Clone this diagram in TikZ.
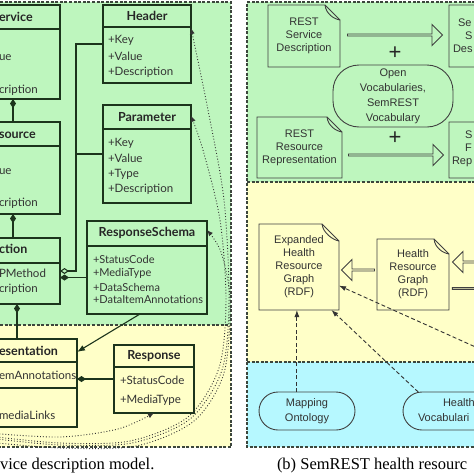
\documentclass[tikz,border=0pt]{standalone}
\usepackage{fontspec}
\setmainfont{Liberation Sans}
\newfontfamily\umlfont{Lato}
\newfontfamily\capfont{Liberation Serif}
\usepackage{tikz}
\usetikzlibrary{arrows.meta,positioning,shapes.arrows,calc}
\definecolor{panelgreen}{RGB}{190,246,190}
\definecolor{panelyellow}{RGB}{255,255,200}
\definecolor{panelcyan}{RGB}{182,248,255}
\definecolor{umlline}{RGB}{28,52,28}
\definecolor{borderdash}{RGB}{60,70,60}

\begin{document}
\begin{tikzpicture}[x=1pt,y=-1pt,>=Latex,
  every node/.style={inner sep=0pt,outer sep=0pt},
  region/.style={draw=borderdash,line width=1.2pt,dash pattern=on 3pt off 1.6pt},
  umlclass/.style={draw=umlline,line width=1.1pt,anchor=north west},
  umlsep/.style={draw=umlline,line width=1.1pt},
  umltitle/.style={font=\umlfont\bfseries\fontsize{12.5}{14}\selectfont,text=black!85},
  attr/.style={font=\umlfont\fontsize{11.5}{14}\selectfont,text=black!80,anchor=west},
  smallattr/.style={font=\umlfont\fontsize{11}{13}\selectfont,text=black!80,anchor=west},
  comp/.style={umlsep,-{Diamond[length=9pt,width=6pt]}},
  aggr/.style={umlsep,-{Diamond[open,length=9pt,width=6pt]}},
  assoc/.style={umlsep,-{Latex[length=8pt,width=6pt]}},
  dep/.style={draw=black!80,line width=0.9pt,dotted,-{Latex[length=6pt,width=5pt]}},
  docnode/.style={minimum width=72pt,minimum height=62pt,align=center,text=black!80,font=\fontsize{11}{13}\selectfont},
  docline/.style={draw=black!75,line width=0.9pt},
  stadium/.style={draw=black!75,line width=0.9pt,rounded corners=19pt,align=center,text=black!80,font=\fontsize{11}{15}\selectfont},
  blockarrow/.style={single arrow,draw=black!75,line width=0.9pt,minimum width=21pt,single arrow head extend=4.5pt,single arrow head indent=0pt},
  depdash/.style={draw=black!80,line width=0.9pt,dash pattern=on 4pt off 2.5pt,-{Latex[length=7pt,width=5pt]}},
  frag/.style={anchor=west,text=black!80,font=\fontsize{11}{13}\selectfont},
  caption/.style={font=\capfont\fontsize{16.5}{18}\selectfont,anchor=base west}]
\useasboundingbox (0,0) rectangle (474,474);
\clip (0,0) rectangle (474,474);

% (a) service description model
\fill[panelgreen] (0,2) rectangle (231,325);
\fill[panelyellow] (0,325) rectangle (231,447);
\draw[region] (0,2) -- (231,2) -- (231,447) -- (0,447);
\draw[region] (0,325) -- (231,325);

\node[umlclass,minimum width=94pt,minimum height=94pt] (service) at (-34,5) {};
\draw[umlsep] (service.north west) ++(0,24) -- ++(94,0);
\node[umltitle,anchor=west] (servicettl) at (-1,17) {ervice};
\node[attr] (serviceval) at (-1,58) {ue};
\node[attr] (servicedesc) at (-1,90) {cription};

\node[umlclass,minimum width=94pt,minimum height=92pt] (resource) at (-34,122) {};
\draw[umlsep] (resource.north west) ++(0,24) -- ++(94,0);
\node[umltitle,anchor=west] (resourcettl) at (-1,135) {source};
\node[attr] (resourceval) at (-1,172) {ue};
\node[attr] (resourcedesc) at (-1,203) {cription};

\node[umlclass,minimum width=86pt,minimum height=66pt] (action) at (-26,238) {};
\draw[umlsep] (action.north west) ++(0,25) -- ++(86,0);
\node[umltitle,anchor=west] (actionttl) at (-1,249) {ction};
\node[attr] (actionmethod) at (-1,273) {PMethod};
\node[attr] (actiondesc) at (-1,289) {cription};

\node[umlclass,minimum width=137pt,minimum height=88pt] (representation) at (-60,339) {};
\draw[umlsep] (representation.north west) ++(0,23) -- ++(137,0);
\draw[umlsep] (representation.north west) ++(0,49) -- ++(137,0);
\node[umltitle,anchor=west] (representationttl) at (-1,351) {esentation};
\node[attr] (representationann) at (-1,375) {emAnnotations};
\node[attr] (representationlinks) at (-1,415) {mediaLinks};

\node[umlclass,minimum width=88pt,minimum height=78pt] (header) at (103,5) {};
\draw[umlsep] (header.north west) ++(0,22) -- ++(88,0);
\node[umltitle] (headerttl) at (147,16) {Header};
\node[attr] (headerkey) at (108,40) {+Key};
\node[attr] (headerval) at (108,56) {+Value};
\node[attr] (headerdesc) at (108,72) {+Description};

\node[umlclass,minimum width=88pt,minimum height=98pt] (parameter) at (103,105) {};
\draw[umlsep] (parameter.north west) ++(0,24) -- ++(88,0);
\node[umltitle] (parameterttl) at (147,117) {Parameter};
\node[attr] (parameterkey) at (108,143) {+Key};
\node[attr] (parameterval) at (108,158.5) {+Value};
\node[attr] (parametertype) at (108,174) {+Type};
\node[attr] (parameterdesc) at (108,189.5) {+Description};

\node[umlclass,minimum width=120pt,minimum height=93pt] (rschema) at (87,221) {};
\draw[umlsep] (rschema.north west) ++(0,25) -- ++(120,0);
\node[umltitle] (rschemattl) at (147,233) {ResponseSchema};
\node[smallattr] (rschemacode) at (93,259) {+StatusCode};
\node[smallattr] (rschematype) at (93,273) {+MediaType};
\node[smallattr] (rschemadata) at (93,287) {+DataSchema};
\node[smallattr] (rschemaann) at (93,300) {+DataItemAnnotations};

\node[umlclass,minimum width=80pt,minimum height=68pt] (response) at (114,345) {};
\draw[umlsep] (response.north west) ++(0,22) -- ++(80,0);
\node[umltitle] (responsettl) at (154,356) {Response};
\node[attr] (responsecode) at (120,380) {+StatusCode};
\node[attr] (responsetype) at (120,400) {+MediaType};

\draw[comp] (resource.north) -- (service.south);
\draw[comp] (action.north -| resource.south) -- (resource.south);
\draw[comp] (action.south |- representation.north) -- (action.south);
\draw[aggr] (header.west) -- ++(-27,0) |- (action.east);
\draw[umlsep] (parameter.west) -- ++(-27,0);
\coordinate (rsjoin) at ([yshift=-10pt]rschema.west);
\draw[comp] (rsjoin) -- (rsjoin -| action.east);
\draw[assoc] ([xshift=-7pt]rschema.south) -- ([yshift=31pt]representation.east);
\draw[comp] (response.west) -- (response.west -| representation.east);

\coordinate (reprout) at (-12,438);
\draw[dep] plot[smooth] coordinates {([yshift=5pt]reprout) (60,437) (118,429) (response.south)};
\draw[dep] plot[smooth] coordinates {(reprout) (60,445) (132,443) (190,419) (222,370) (229,300) (224,200) (208,110) (header.20)};
\draw[dep] plot[smooth] coordinates {([yshift=2pt]reprout) (60,443) (130,441) (188,417) (219,368) (226,300) (220,220) (203,150) (parameter.41)};
\draw[dep] plot[smooth] coordinates {([yshift=-4pt]reprout) (60,448) (136,446) (194,421) (224,373) (230,300) (221,252) (rschema.32)};

% (b) SemREST health resource
\fill[panelgreen] (247,2) rectangle (480,182);
\fill[panelyellow] (247,182) rectangle (480,362);
\fill[panelcyan] (247,362) rectangle (480,447);
\draw[region] (480,2) -- (247,2) -- (247,447) -- (480,447);
\draw[region] (247,182) -- (480,182);
\draw[region] (247,362) -- (480,362);

\node[docnode] (srvdesc) at (304,36) {REST\\Service\\Description};
\node[docnode] (semsrv) at (485,36) {};
\node[frag] (semsrvtxta) at (458,23) {Se};
\node[frag] (semsrvtxtb) at (465,36) {S};
\node[frag] (semsrvtxtc) at (453,49) {Des};
\node[docnode,minimum width=85pt,minimum height=61pt] (resrep) at (299.5,147.5) {REST\\Resource\\Representation};
\node[docnode,minimum height=56pt] (semrep) at (485,150) {};
\node[frag] (semreptxta) at (465,135) {S};
\node[frag] (semreptxtb) at (465,148) {F};
\node[frag] (semreptxtc) at (452,162) {Rep};
\node[stadium,minimum width=120pt,minimum height=62pt,rounded corners=26pt] (vocab) at (393,96) {Open\\Vocabularies,\\SemREST\\Vocabulary};
\node[font=\fontsize{22}{22}\selectfont,text=black!85] (plusa) at (395,53) {+};
\node[font=\fontsize{22}{22}\selectfont,text=black!85] (plusb) at (395,138) {+};
\node[blockarrow,minimum height=95pt] (srvarrow) at (394.5,35) {};
\node[blockarrow,minimum height=95pt] (reparrow) at (395.5,155) {};

\node[docnode,minimum width=80pt,minimum height=86pt] (expgraph) at (299,267) {Expanded\\Health\\Resource\\Graph\\(RDF)};
\node[docnode,minimum height=71pt] (hgraph) at (413,274.5) {Health\\Resource\\Graph\\(RDF)};
\node[blockarrow,shape border rotate=180,minimum height=33pt] (exparrow) at (358.5,270) {};
\node[blockarrow,shape border rotate=180,minimum height=47pt] (inarrow) at (476.5,262) {};
\node[blockarrow,minimum height=50pt,minimum width=18pt] (outarrow) at (477,288.5) {};

\foreach \nm/\fs in {srvdesc/15,semsrv/15,resrep/15,semrep/15,expgraph/17,hgraph/15}{
  \draw[docline] (\nm.south west) |- ([xshift=-\fs]\nm.north east) -- ([yshift=-\fs]\nm.north east) |- (\nm.south west) -- cycle;
  \draw[docline] ([xshift=-\fs]\nm.north east) .. controls +(1,9) and +(-6,-1) .. ([yshift=-\fs]\nm.north east);
}

\node[stadium,minimum width=96pt,minimum height=38pt] (mapping) at (307,411) {Mapping\\Ontology};
\node[stadium,minimum width=120pt,minimum height=38pt] (hvocab) at (463,411) {};
\node[frag] (hvocabtxta) at (443,403) {Health};
\node[frag] (hvocabtxtb) at (418,418) {Vocabulari};

\draw[depdash] (mapping.118) -- (mapping.118 |- expgraph.south);
\draw[depdash] (hvocab.157) -- (expgraph.-53);
\coordinate (vocabout) at (480,349);
\draw[depdash] (vocabout) -- (expgraph.-25);

\node[caption] (capmodel) at (0,469.5) {vice description model.};
\node[caption] (capsemrest) at (277,469.5) {(b) SemREST health resourc};
\end{tikzpicture}
\end{document}
